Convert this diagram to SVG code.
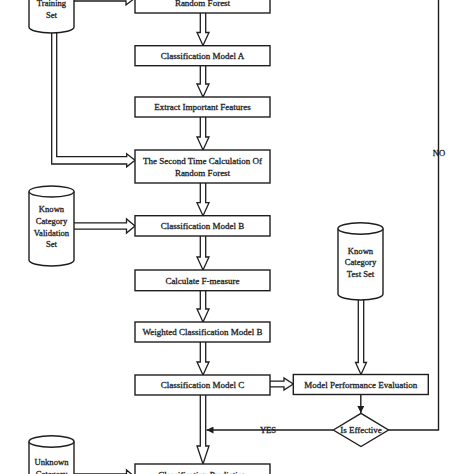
<svg xmlns="http://www.w3.org/2000/svg" width="474" height="474" viewBox="0 0 474 474">
<defs>
<style>
.box{fill:#fff;stroke:#1e1e1e;stroke-width:1.4}
.cyl{fill:#fff;stroke:#1e1e1e;stroke-width:1.4}
.dbl{fill:#fff;stroke:#1e1e1e;stroke-width:1.3;stroke-linejoin:miter}
.ln{fill:none;stroke:#1e1e1e;stroke-width:1.4}
text{font-family:"Liberation Serif","Times New Roman",serif;font-size:9px;fill:#222;stroke:#222;stroke-width:0.3;text-anchor:middle;dominant-baseline:central}
.ct{font-size:8.6px}
</style>
<marker id="ah" viewBox="0 0 10 10" refX="10" refY="5" markerWidth="7" markerHeight="7" markerUnits="userSpaceOnUse" orient="auto">
<path d="M0,0 L10,5 L0,10 Z" fill="#1e1e1e"/>
</marker>
</defs>
<rect width="474" height="474" fill="#fff"/>

<g id="connectors">
<path class="dbl" d="M200.3,13 V32.5 H197 L203,45.5 L209,32.5 H205.7 V13"/>
<path class="dbl" d="M200.3,65.7 V84 H197 L203,97 L209,84 H205.7 V65.7"/>
<path class="dbl" d="M200.3,117 V137 H197 L203,150 L209,137 H205.7 V117"/>
<path class="dbl" d="M200.3,183 V202.7 H197 L203,215.7 L209,202.7 H205.7 V183"/>
<path class="dbl" d="M200.3,236 V257 H197 L203,270 L209,257 H205.7 V236"/>
<path class="dbl" d="M200.3,290.7 V309 H197 L203,322 L209,309 H205.7 V290.7"/>
<path class="dbl" d="M200.3,342 V362 H197 L203,375 L209,362 H205.7 V342"/>
<path class="dbl" d="M200.3,395 V446 H197 L203,464 L209,446 H205.7 V395"/>
<path class="dbl" d="M358.3,300 V362.5 H355.5 L361,374.5 L366.5,362.5 H363.7 V300"/>
<path class="dbl" d="M74,-5 H126 V-9 L135,-2 L126,5 V1 H74"/>
<path class="dbl" d="M74,222.8 H126.5 V219 L135,226 L126.5,233 V229.2 H74"/>
<path class="dbl" d="M270,381.2 H284 V378 L293.3,384 L284,390 V386.8 H270"/>
<path class="dbl" d="M74,473.8 H126.5 V470 L135,477 L126.5,484 V480.2 H74"/>
<path class="dbl" d="M51.7,33 V164 H126.7 V166.8 L135,160.3 L126.7,153.8 V156.7 H56.7 V33"/>
<path class="ln" d="M360.8,394.3 V413" marker-end="url(#ah)"/>
<path class="ln" d="M333.3,430 H206.5" marker-end="url(#ah)"/>
<path class="ln" d="M388.5,430 H438.5 V-5"/>
<text x="268" y="430" class="ct">YES</text>
<text x="439" y="153" class="ct">NO</text>
</g>

<g id="training-set">
<path class="cyl" d="M29,-20 V27 A22.5,6 0 0 0 74,27 V-20"/>
<text x="51.5" y="3" class="ct">Training</text>
<text x="51.5" y="14.5" class="ct">Set</text>
</g>

<g id="first-rf">
<rect class="box" x="135" y="-25" width="135" height="38"/>
<text x="202.5" y="2.7">Random Forest</text>
</g>

<g id="model-a">
<rect class="box" x="135" y="45.7" width="135" height="20"/>
<text x="202.5" y="55.7">Classification Model A</text>
</g>

<g id="extract">
<rect class="box" x="135" y="97" width="135" height="20"/>
<text x="202.5" y="107">Extract Important Features</text>
</g>

<g id="second-rf">
<rect class="box" x="135" y="150" width="135" height="33"/>
<text x="202.5" y="160.7">The Second Time Calculation Of</text>
<text x="202.5" y="172.7">Random Forest</text>
</g>

<g id="validation-set">
<path class="cyl" d="M29,191.5 V260 A22.5,6 0 0 0 74,260 V191.5"/>
<ellipse class="cyl" cx="51.5" cy="191.5" rx="22.5" ry="5.5"/>
<text x="51.5" y="209.3" class="ct">Known</text>
<text x="51.5" y="221" class="ct">Category</text>
<text x="51.5" y="232.5" class="ct">Validation</text>
<text x="51.5" y="243.7" class="ct">Set</text>
</g>

<g id="model-b">
<rect class="box" x="135" y="215.7" width="135" height="20.3"/>
<text x="202.5" y="226">Classification Model B</text>
</g>

<g id="f-measure">
<rect class="box" x="135" y="270" width="135" height="20.7"/>
<text x="202.5" y="280.5">Calculate F-measure</text>
</g>

<g id="weighted-b">
<rect class="box" x="135" y="322" width="135" height="20"/>
<text x="202.5" y="332">Weighted Classification Model B</text>
</g>

<g id="model-c">
<rect class="box" x="135" y="375" width="135" height="20"/>
<text x="202.5" y="385">Classification Model C</text>
</g>

<g id="test-set">
<path class="cyl" d="M338,228.5 V294 A22.5,6 0 0 0 383,294 V228.5"/>
<ellipse class="cyl" cx="360.5" cy="228.5" rx="22.5" ry="5.7"/>
<text x="360.5" y="250.7" class="ct">Known</text>
<text x="360.5" y="262.3" class="ct">Category</text>
<text x="360.5" y="273.7" class="ct">Test Set</text>
</g>

<g id="evaluation">
<rect class="box" x="293.3" y="374.5" width="135" height="20"/>
<text x="360.8" y="384.5">Model Performance Evaluation</text>
</g>

<g id="is-effective">
<polygon class="box" points="333.3,430 361,413.3 388.5,430 361,446.5"/>
<text x="361" y="430">Is Effective</text>
</g>

<g id="unknown-set">
<path class="cyl" d="M29,441.5 V500 H74 V441.5"/>
<ellipse class="cyl" cx="51.5" cy="441.5" rx="22.5" ry="5.7"/>
<text x="51.5" y="462.3" class="ct">Unknown</text>
<text x="51.5" y="474" class="ct">Category</text>
</g>

<g id="prediction">
<rect class="box" x="135" y="464" width="135" height="30"/>
<text x="202.5" y="475">Classification Prediction</text>
</g>
</svg>
